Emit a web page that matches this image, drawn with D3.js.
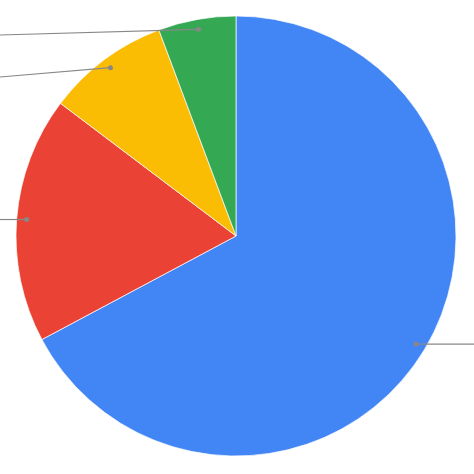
<!DOCTYPE html>
<html><head><meta charset="utf-8">
<script src="https://cdn.jsdelivr.net/npm/d3@7"></script>
<style>body{margin:0;background:#fff}</style></head>
<body><svg id="c" width="474" height="474"></svg>
<script>
const categories = ["A","B","C","D"];
const values = [67.2, 18.1, 9.0, 5.7];
const colors = ["#4285F4","#EA4335","#FBBC04","#34A853"];
const svg = d3.select("#c");
const cx=236, cy=236, R=220;
const g = svg.append("g").attr("transform",`translate(${cx},${cy})`);
const pie = d3.pie().sort(null).value(d=>d)(values);
const arc = d3.arc().innerRadius(0).outerRadius(R);
g.selectAll("path").data(pie).join("path").attr("d",arc)
 .attr("fill",(d,i)=>colors[i]).attr("stroke","#fff").attr("stroke-width",0.7);
const lab = d3.arc().innerRadius(210).outerRadius(210);
// leader lines to chart edges (labels outside view)
const ends = [[474-cx,null],[-cx,null],[-cx,-159],[-cx,-201]];
pie.forEach((d,i)=>{
  const [x,y]=lab.centroid(d);
  const ex = ends[i][0], ey = ends[i][1]===null? y : ends[i][1];
  g.append("line").attr("x1",x).attr("y1",y).attr("x2",ex).attr("y2",ey)
   .attr("stroke","#888").attr("stroke-width",1.2);
  g.append("circle").attr("cx",x).attr("cy",y).attr("r",2.5).attr("fill","#888");
});
</script></body></html>
